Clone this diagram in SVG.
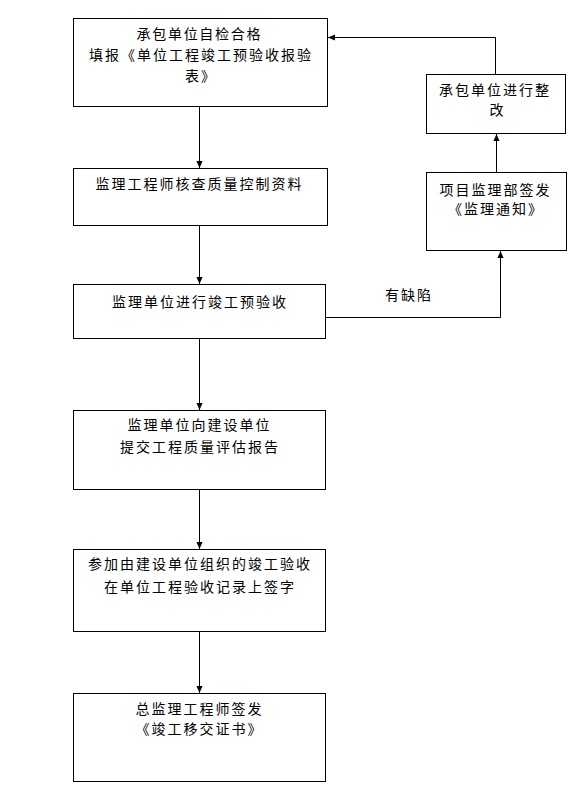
<svg xmlns="http://www.w3.org/2000/svg" width="577" height="804" viewBox="0 0 577 804">
<style>
.box{fill:#fff;stroke:#000;stroke-width:1}
.t{font-family:"Noto Sans CJK SC","Liberation Sans",sans-serif;font-size:14px;fill:#000;text-anchor:middle;letter-spacing:2px}
.c{fill:none;stroke:#000;stroke-width:1;marker-end:url(#ah)}
</style>
<defs>
<marker id="ah" viewBox="0 0 8 8" refX="8" refY="4" markerWidth="8" markerHeight="7" markerUnits="userSpaceOnUse" orient="auto">
<path d="M0,0.5 L8,4 L0,7.5 z" fill="#000"/>
</marker>
</defs>
<rect width="577" height="804" fill="#fff"/>
<g id="connectors">
<path class="c" d="M199.5,107 V168"/>
<path class="c" d="M199.5,226 V284"/>
<path class="c" d="M199.5,339 V410"/>
<path class="c" d="M199.5,490 V549"/>
<path class="c" d="M199.5,632 V693"/>
<path class="c" d="M325.5,317.5 H500.5 V251"/>
<path class="c" d="M496.5,172 V134"/>
<path class="c" d="M495.5,74 V37.5 H328"/>
<text class="t" x="409" y="300.3">有缺陷</text>
</g>
<g id="n1">
<rect class="box" x="73.5" y="18.5" width="254" height="88"/>
<text class="t" x="199.5" y="39" textLength="126" lengthAdjust="spacing">承包单位自检合格</text>
<text class="t" x="201" y="60">填报《单位工程竣工预验收报验</text>
<text class="t" x="201" y="80.6">表》</text>
</g>
<g id="n2">
<rect class="box" x="73.5" y="168.5" width="254" height="57"/>
<text class="t" x="199.5" y="188.6" textLength="208" lengthAdjust="spacing">监理工程师核查质量控制资料</text>
</g>
<g id="n3">
<rect class="box" x="73.5" y="284.5" width="252" height="54"/>
<text class="t" x="200" y="307">监理单位进行竣工预验收</text>
</g>
<g id="n4">
<rect class="box" x="73.5" y="410.5" width="252" height="79"/>
<text class="t" x="199.5" y="430.3">监理单位向建设单位</text>
<text class="t" x="200" y="452">提交工程质量评估报告</text>
</g>
<g id="n5">
<rect class="box" x="73.5" y="549.5" width="252" height="82"/>
<text class="t" x="200" y="569">参加由建设单位组织的竣工验收</text>
<text class="t" x="200" y="592">在单位工程验收记录上签字</text>
</g>
<g id="n6">
<rect class="box" x="73.5" y="693.5" width="252" height="88"/>
<text class="t" x="199.5" y="713.6">总监理工程师签发</text>
<text class="t" x="199.5" y="734.2">《竣工移交证书》</text>
</g>
<g id="n7">
<rect class="box" x="426.5" y="74.5" width="139" height="59"/>
<text class="t" x="495" y="95.3">承包单位进行整</text>
<text class="t" x="497.5" y="115.3">改</text>
</g>
<g id="n8">
<rect class="box" x="426.5" y="172.5" width="140" height="78"/>
<text class="t" x="495.5" y="195">项目监理部签发</text>
<text class="t" x="496" y="214">《监理通知》</text>
</g>
</svg>
